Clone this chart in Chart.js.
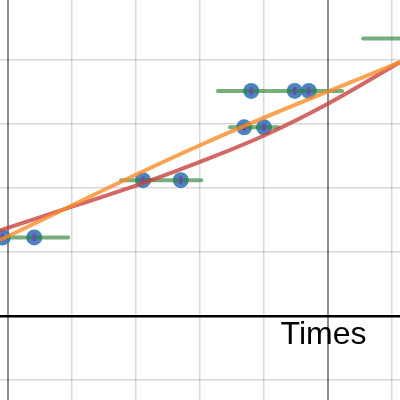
<!DOCTYPE html>
<html>
<head>
<meta charset="utf-8">
<script src="https://cdn.jsdelivr.net/npm/chart.js@4"></script>
<style>
  html, body { margin: 0; padding: 0; background: #fff; }
  #wrap { width: 400px; height: 400px; }
</style>
</head>
<body>
<div id="wrap"><canvas id="chart"></canvas></div>
<script>
// Blue points
const pointX = [-0.08, 0.41, 2.11, 2.70, 3.69, 4.00, 3.80, 4.48, 4.70];
const pointY = [1.23, 1.23, 2.125, 2.125, 2.95, 2.95, 3.52, 3.52, 3.52];
const tickHalf = 0.06;

// Green horizontal segments
const segY = [1.23, 2.125, 2.95, 3.52, 4.34];
const segStart = [-0.15, 1.77, 3.47, 3.28, 5.55];
const segEnd = [0.94, 3.02, 4.22, 5.22, 6.2];

// Orange fit
const orangeX = [-0.125, 3.0, 6.125];
const orangeY = [1.19, 2.67, 3.97];

// Red curved fit
const redX = [-0.125, 1, 2.11, 3.0, 4.02, 5.02, 6.125];
const redY = [1.34, 1.71, 2.08, 2.41, 2.83, 3.33, 3.97];

// Grid ticks
const xTicks = [0, 1, 2, 3, 4, 5, 6];
const yTicks = [-1, 0, 1, 2, 3, 4];

const toPts = (xs, ys) => xs.map((x, i) => ({ x, y: ys[i] }));

// Chart.js paints the first dataset on top, so list top layer first
const datasets = [];
datasets.push({
    data: toPts(orangeX, orangeY),
    showLine: true,
    tension: 0.4,
    borderColor: "rgba(250, 140, 40, 0.8)",
    borderWidth: 4,
    pointRadius: 0,
});
datasets.push({
    data: toPts(redX, redY),
    showLine: true,
    tension: 0.4,
    borderColor: "rgba(199, 68, 64, 0.8)",
    borderWidth: 4,
    pointRadius: 0,
});
pointX.forEach((x, i) => {
    datasets.push({
        data: [{ x, y: pointY[i] - tickHalf }, { x, y: pointY[i] + tickHalf }],
        showLine: true,
        borderColor: "rgba(120, 60, 190, 0.85)",
        borderWidth: 3,
        pointRadius: 0,
    });
});
segY.forEach((y, i) => {
    datasets.push({
        data: [{ x: segStart[i], y }, { x: segEnd[i], y }],
        showLine: true,
        borderColor: "rgba(45, 130, 55, 0.65)",
        borderWidth: 4,
        borderCapStyle: "round",
        pointRadius: 0,
    });
});
datasets.push({
    data: toPts(pointX, pointY),
    backgroundColor: "rgba(45, 112, 179, 0.85)",
    borderWidth: 0,
    pointRadius: 8,
});

// Axis label drawn in data coordinates
const axisLabel = {
    id: "axisLabel",
    afterDatasetsDraw(chart) {
        const { ctx, scales } = chart;
        ctx.save();
        ctx.fillStyle = "#000";
        ctx.font = "32px 'Liberation Sans', Arial, sans-serif";
        ctx.textAlign = "center";
        ctx.textBaseline = "middle";
        ctx.fillText("Times", scales.x.getPixelForValue(4.93), scales.y.getPixelForValue(-0.29));
        ctx.restore();
    },
};

const isMajorX = (c) => c.tick && (c.tick.value === 0 || c.tick.value === 5);
const isZeroY = (c) => c.tick && c.tick.value === 0;

new Chart(document.getElementById("chart"), {
    type: "scatter",
    data: { datasets },
    options: {
        responsive: true,
        maintainAspectRatio: false,
        animation: false,
        layout: { padding: 0, autoPadding: false },
        plugins: { legend: { display: false }, tooltip: { enabled: false } },
        scales: {
            x: {
                min: -0.125, max: 6.125,
                afterBuildTicks: (s) => { s.ticks = xTicks.map((value) => ({ value })); },
                ticks: { display: false },
                border: { display: false },
                grid: {
                    drawTicks: false,
                    color: (c) => (isMajorX(c) ? "rgba(0,0,0,0.45)" : "rgba(0,0,0,0.15)"),
                    lineWidth: (c) => (isMajorX(c) ? 2 : 1.5),
                },
            },
            y: {
                min: -1.31, max: 4.94,
                afterBuildTicks: (s) => { s.ticks = yTicks.map((value) => ({ value })); },
                ticks: { display: false },
                border: { display: false },
                grid: {
                    drawTicks: false,
                    color: (c) => (isZeroY(c) ? "#000" : "rgba(0,0,0,0.15)"),
                    lineWidth: (c) => (isZeroY(c) ? 2.5 : 1.5),
                },
            },
        },
    },
    plugins: [axisLabel],
});
</script>
</body>
</html>
